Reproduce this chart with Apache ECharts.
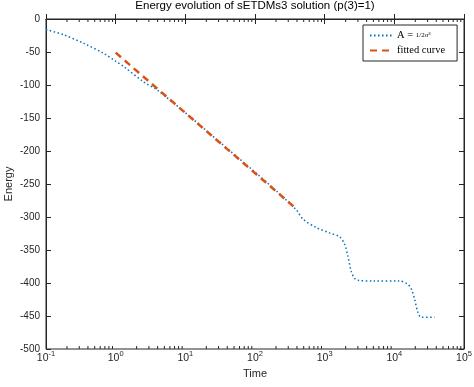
<!DOCTYPE html>
<html>
<head>
<meta charset="utf-8">
<script src="https://cdn.jsdelivr.net/npm/echarts@6/dist/echarts.min.js"></script>
<style>html,body{margin:0;padding:0;background:#fff}#c{width:474px;height:387px}</style>
</head>
<body>
<div id="c"></div>
<script>
// Energy curve (time, energy)
const energyTime = [0.1, 0.18, 0.35, 0.67, 1, 1.3, 2.5, 4, 10, 30, 100, 200, 391, 487, 758, 1170, 1640, 1930, 2150, 2400, 2690, 3000, 5000, 11900, 15600, 17500, 19500, 21700, 24300, 37700];
const energyValue = [-16, -24, -37, -52, -64, -72, -95, -108, -142, -185, -232, -260, -289, -303, -316, -324, -330, -341, -359, -382, -393, -396, -397, -397, -402, -409, -424, -444, -452, -452];
// Fitted straight line (in log time)
const fitTime = [1, 391];
const fitValue = [-51, -287.5];
// Axis settings
const xMin = 0.1, xMax = 100000;
const yMin = -500, yMax = 0, yStep = 50;
const minorTickValues = [];
for (let e = -1; e < 5; e++) for (let m = 2; m <= 9; m++) minorTickValues.push(m * Math.pow(10, e));

const axisColor = '#262626';
const chart = echarts.init(document.getElementById('c'));
const zip = (a, b) => a.map((v, i) => [v, b[i]]);

chart.setOption({
  animation: false,
  title: {
    text: 'Energy evolution of sETDMs3 solution (p(3)=1)',
    left: 255, textAlign: 'center', top: 0, padding: 0,
    textStyle: { fontFamily: 'Liberation Sans', fontSize: 11.5, fontWeight: 'normal', color: '#000' }
  },
  grid: { left: 46, right: 10, top: 19, bottom: 38, outerBoundsMode: 'none', containLabel: false,
    show: true, borderColor: axisColor, borderWidth: 1 },
  legend: {
    data: ['A', 'fitted curve'],
    orient: 'vertical', left: 363, top: 25,
    padding: [5, 12, 5, 6], itemGap: 4, itemWidth: 22, itemHeight: 8,
    borderColor: axisColor, borderWidth: 1, backgroundColor: '#fff',
    itemStyle: { opacity: 0 },
    textStyle: { fontFamily: 'Liberation Serif', fontSize: 10.5, color: '#000',
      rich: { f: { fontFamily: 'Liberation Serif', fontSize: 7, color: '#000' } } },
    formatter: n => n === 'A' ? 'A = {f|1/2σ³}' : n
  },
  xAxis: [{
    type: 'log', logBase: 10, min: xMin, max: xMax,
    axisLine: { show: true, lineStyle: { color: axisColor } },
    axisTick: { inside: true, length: 5, lineStyle: { color: axisColor } },
    splitLine: { show: false },
    axisLabel: {
      margin: 1, color: axisColor,
      formatter: v => '{b|10}{s|' + Math.round(Math.log10(v)) + '}',
      rich: {
        b: { fontFamily: 'Liberation Sans', fontSize: 10.5, color: axisColor, lineHeight: 14, verticalAlign: 'bottom' },
        s: { fontFamily: 'Liberation Sans', fontSize: 7.5, color: axisColor, verticalAlign: 'top' }
      }
    },
    name: 'Time', nameLocation: 'middle', nameGap: 17,
    nameTextStyle: { fontFamily: 'Liberation Sans', fontSize: 11, color: axisColor }
  }, {
    type: 'log', logBase: 10, min: xMin, max: xMax, position: 'top',
    axisLine: { show: true, lineStyle: { color: axisColor } },
    axisTick: { inside: true, length: 5, lineStyle: { color: axisColor } },
    axisLabel: { show: false }, splitLine: { show: false }
  }],
  yAxis: [{
    type: 'value', min: yMin, max: yMax, interval: yStep,
    axisLine: { show: true, lineStyle: { color: axisColor } },
    axisTick: { inside: true, length: 5, lineStyle: { color: axisColor } },
    splitLine: { show: false },
    axisLabel: { margin: 6, fontFamily: 'Liberation Sans', fontSize: 10, color: axisColor },
    name: 'Energy', nameLocation: 'middle', nameGap: 32, nameRotate: 90, nameMoveOverlap: false,
    nameTextStyle: { fontFamily: 'Liberation Sans', fontSize: 11, color: axisColor }
  }, {
    type: 'value', min: yMin, max: yMax, interval: yStep, position: 'right',
    axisLine: { show: true, lineStyle: { color: axisColor } },
    axisTick: { inside: true, length: 5, lineStyle: { color: axisColor } },
    axisLabel: { show: false }, splitLine: { show: false }
  }],
  series: [{
    name: 'A', type: 'line', data: zip(energyTime, energyValue),
    showSymbol: false, symbol: 'none', smooth: 0.3,
    lineStyle: { color: '#0072BD', width: 1.5, type: [1.5, 2.5] },
    itemStyle: { color: '#0072BD' }
  }, {
    name: 'fitted curve', type: 'line', data: zip(fitTime, fitValue),
    showSymbol: false, symbol: 'none',
    lineStyle: { color: '#D95319', width: 2.5, type: [7, 5] },
    itemStyle: { color: '#D95319' }
  }, {
    name: 'minor', type: 'custom', silent: true, clip: false,
    data: minorTickValues.map(v => [v, yMin]),
    encode: { x: 0, y: 1 },
    renderItem: (params, api) => {
      const v = api.value(0);
      const b = api.coord([v, yMin]);
      const t = api.coord([v, yMax]);
      const st = { stroke: axisColor, lineWidth: 1 };
      return { type: 'group', children: [
        { type: 'line', shape: { x1: b[0], y1: b[1], x2: b[0], y2: b[1] - 3 }, style: st },
        { type: 'line', shape: { x1: t[0], y1: t[1], x2: t[0], y2: t[1] + 3 }, style: st }
      ] };
    }
  }]
});
</script>
</body>
</html>
